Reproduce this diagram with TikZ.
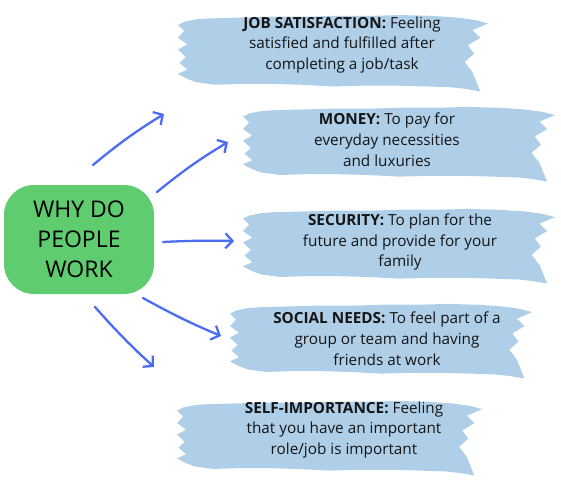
\documentclass[tikz,border=0pt]{standalone}
\usepackage{fontspec}
\setmainfont{Open Sans}
\usetikzlibrary{arrows.meta}
\definecolor{brushblue}{HTML}{AFCFE8}
\definecolor{keygreen}{HTML}{5FCC6F}
\definecolor{arrowblue}{HTML}{4D6CF4}
\definecolor{inktext}{HTML}{151515}
\newcommand\brushshape[4]{%
  \begin{scope}[shift={(#1,#2)},x=#3pt,y=-#4pt]
    \fill[brushblue] plot coordinates {
      (0.02,0.14) (0.06,0.11) (0.10,0.10) (0.2,0.09) (0.3,0.08) (0.42,0.08) (0.5,0.07)
      (0.62,0.07) (0.72,0.06) (0.82,0.07) (0.9,0.09) (0.96,0.12) (1.0,0.16)
      (0.95,0.24) (0.975,0.33) (0.935,0.42) (0.955,0.52) (0.925,0.62) (0.95,0.74)
      (0.975,0.97) (0.93,0.94) (0.88,0.92) (0.8,0.91) (0.7,0.90) (0.6,0.9) (0.5,0.91)
      (0.4,0.89) (0.3,0.88) (0.2,0.88) (0.12,0.89) (0.06,0.86) (0.03,0.82)
      (0.0,0.76) (0.03,0.71) (0.005,0.63) (0.025,0.56) (0.0,0.47) (0.03,0.41)
      (0.0,0.33) (0.02,0.25) (0.0,0.18)
    } -- cycle;
  \end{scope}}
\tikzset{
  label text/.style={text=inktext,align=center,font=\fontsize{15.3}{20.8}\selectfont,inner sep=0pt},
  link/.style={draw=arrowblue,line width=2.3pt,line cap=round,line join=round,
    -{Straight Barb[length=7pt,width=15pt,line width=2.3pt]}},
}
\begin{document}
\begin{tikzpicture}[x=1pt,y=-1pt]
\useasboundingbox (0,0) rectangle (561,487);
% brushes
\brushshape{178}{10}{310}{84}
\brushshape{243}{102}{312}{82}
\brushshape{243}{204}{312}{82}
\brushshape{230}{299}{302}{82}
\brushshape{177}{396}{305}{82}
% text nodes
\node[label text] (b1) at (342,45) {\textbf{JOB SATISFACTION:} Feeling\\satisfied and fulfilled after\\completing a job/task};
\node[label text] (b2) at (387,140) {\textbf{MONEY:} To pay for\\everyday necessities\\and luxuries};
\node[label text] (b3) at (400,242) {\textbf{SECURITY:} To plan for the\\future and provide for your\\family};
\node[label text] (b4) at (387,339) {\textbf{SOCIAL NEEDS:} To feel part of a\\group or team and having\\friends at work};
\node[label text] (b5) at (344,430) {\textbf{SELF-IMPORTANCE:} Feeling\\that you have an important\\role/job is important};
% central node
\node[fill=keygreen,rounded corners=30pt,minimum width=150pt,minimum height=109pt,
  text=black,align=center,font=\fontsize{23}{30}\selectfont,inner sep=0pt] (why) at (79,239.5) {WHY DO\\PEOPLE\\WORK};
% arrow end points
\coordinate (a1s) at (93,165);  \coordinate (a1e) at (164,114);
\coordinate (a2s) at (157,192); \coordinate (a2e) at (228,142);
\coordinate (a3s) at (163,242); \coordinate (a3e) at (234,241);
\coordinate (a4s) at (143,298); \coordinate (a4e) at (221,336);
\coordinate (a5s) at (95,307);  \coordinate (a5e) at (154,367);
\draw[link] (a1s) to[bend left=4] (a1e);
\draw[link] (a2s) to[bend left=4] (a2e);
\draw[link] (a3s) to[bend left=2] (a3e);
\draw[link] (a4s) to[bend right=3] (a4e);
\draw[link] (a5s) to[bend right=3] (a5e);
\end{tikzpicture}
\end{document}
